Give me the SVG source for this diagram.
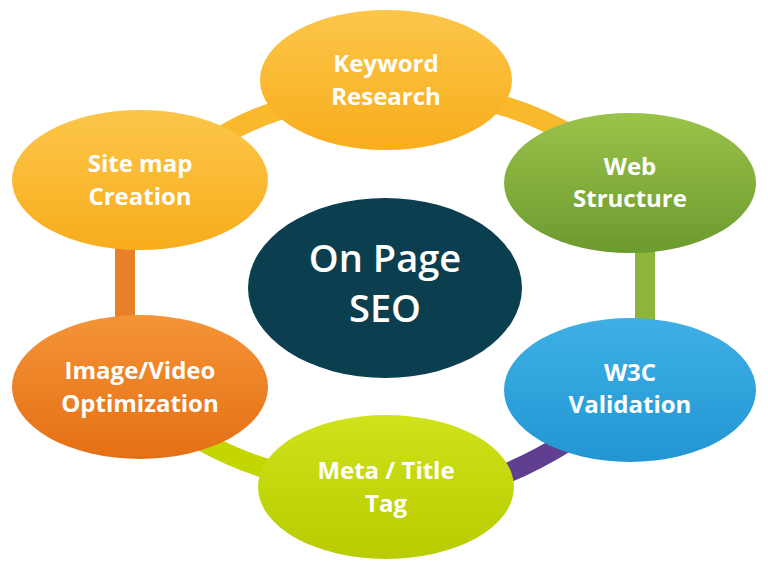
<svg xmlns="http://www.w3.org/2000/svg" width="768" height="574" viewBox="0 0 768 574">
<style>
.t{font-family:"Open Sans","Liberation Sans",sans-serif;font-weight:bold;font-size:24px;fill:#fff;text-anchor:middle}
.c{font-family:"Open Sans","Liberation Sans",sans-serif;font-weight:600;font-size:38px;fill:#fff;text-anchor:middle}
.l{fill:none;stroke-width:20}
</style>
<defs>
<linearGradient id="gy" x1="0" y1="0" x2="0" y2="1"><stop offset="0" stop-color="#fcc64a"/><stop offset="1" stop-color="#f8ad1c"/></linearGradient>
<linearGradient id="gg" x1="0" y1="0" x2="0" y2="1"><stop offset="0" stop-color="#9bc34a"/><stop offset="1" stop-color="#6b9a2e"/></linearGradient>
<linearGradient id="gb" x1="0" y1="0" x2="0" y2="1"><stop offset="0" stop-color="#3fb0e6"/><stop offset="1" stop-color="#2196d3"/></linearGradient>
<linearGradient id="gl" x1="0" y1="0" x2="0" y2="1"><stop offset="0" stop-color="#cfe21a"/><stop offset="1" stop-color="#b8cc00"/></linearGradient>
<linearGradient id="go" x1="0" y1="0" x2="0" y2="1"><stop offset="0" stop-color="#f49437"/><stop offset="1" stop-color="#e56f14"/></linearGradient>
</defs>
<g id="connectors">
<path class="l" stroke="#f9b92c" d="M200,150 Q250,115 300,105"/>
<path class="l" stroke="#f9b92c" d="M480,100 Q530,110 580,140"/>
<path class="l" stroke="#8cb53a" d="M645,240 L645,330"/>
<path class="l" stroke="#603f90" d="M570,440 Q530,465 490,480"/>
<path class="l" stroke="#c4d600" d="M200,440 Q245,465 290,475"/>
<path class="l" stroke="#e8802a" d="M125,240 L125,330"/>
</g>
<g id="keyword"><ellipse cx="386" cy="80" rx="126" ry="70" fill="url(#gy)"/><text class="t" x="386" y="72">Keyword</text><text class="t" x="386" y="105">Research</text></g>
<g id="sitemap"><ellipse cx="140" cy="180" rx="128" ry="70" fill="url(#gy)"/><text class="t" x="140" y="172">Site map</text><text class="t" x="140" y="205">Creation</text></g>
<g id="web"><ellipse cx="630" cy="183" rx="126" ry="70" fill="url(#gg)"/><text class="t" x="630" y="175">Web</text><text class="t" x="630" y="207">Structure</text></g>
<g id="center"><ellipse cx="385" cy="288" rx="137" ry="90" fill="#0b3f4f"/><text class="c" x="385" y="272">On Page</text><text class="c" x="385" y="322">SEO</text></g>
<g id="image"><ellipse cx="140" cy="387" rx="128" ry="72" fill="url(#go)"/><text class="t" x="140" y="379">Image/Video</text><text class="t" x="140" y="412">Optimization</text></g>
<g id="w3c"><ellipse cx="630" cy="390" rx="126" ry="72" fill="url(#gb)"/><text class="t" x="630" y="381">W3C</text><text class="t" x="630" y="413">Validation</text></g>
<g id="meta"><ellipse cx="386" cy="487" rx="128" ry="72" fill="url(#gl)"/><text class="t" x="386" y="479">Meta / Title</text><text class="t" x="386" y="512">Tag</text></g>
</svg>
